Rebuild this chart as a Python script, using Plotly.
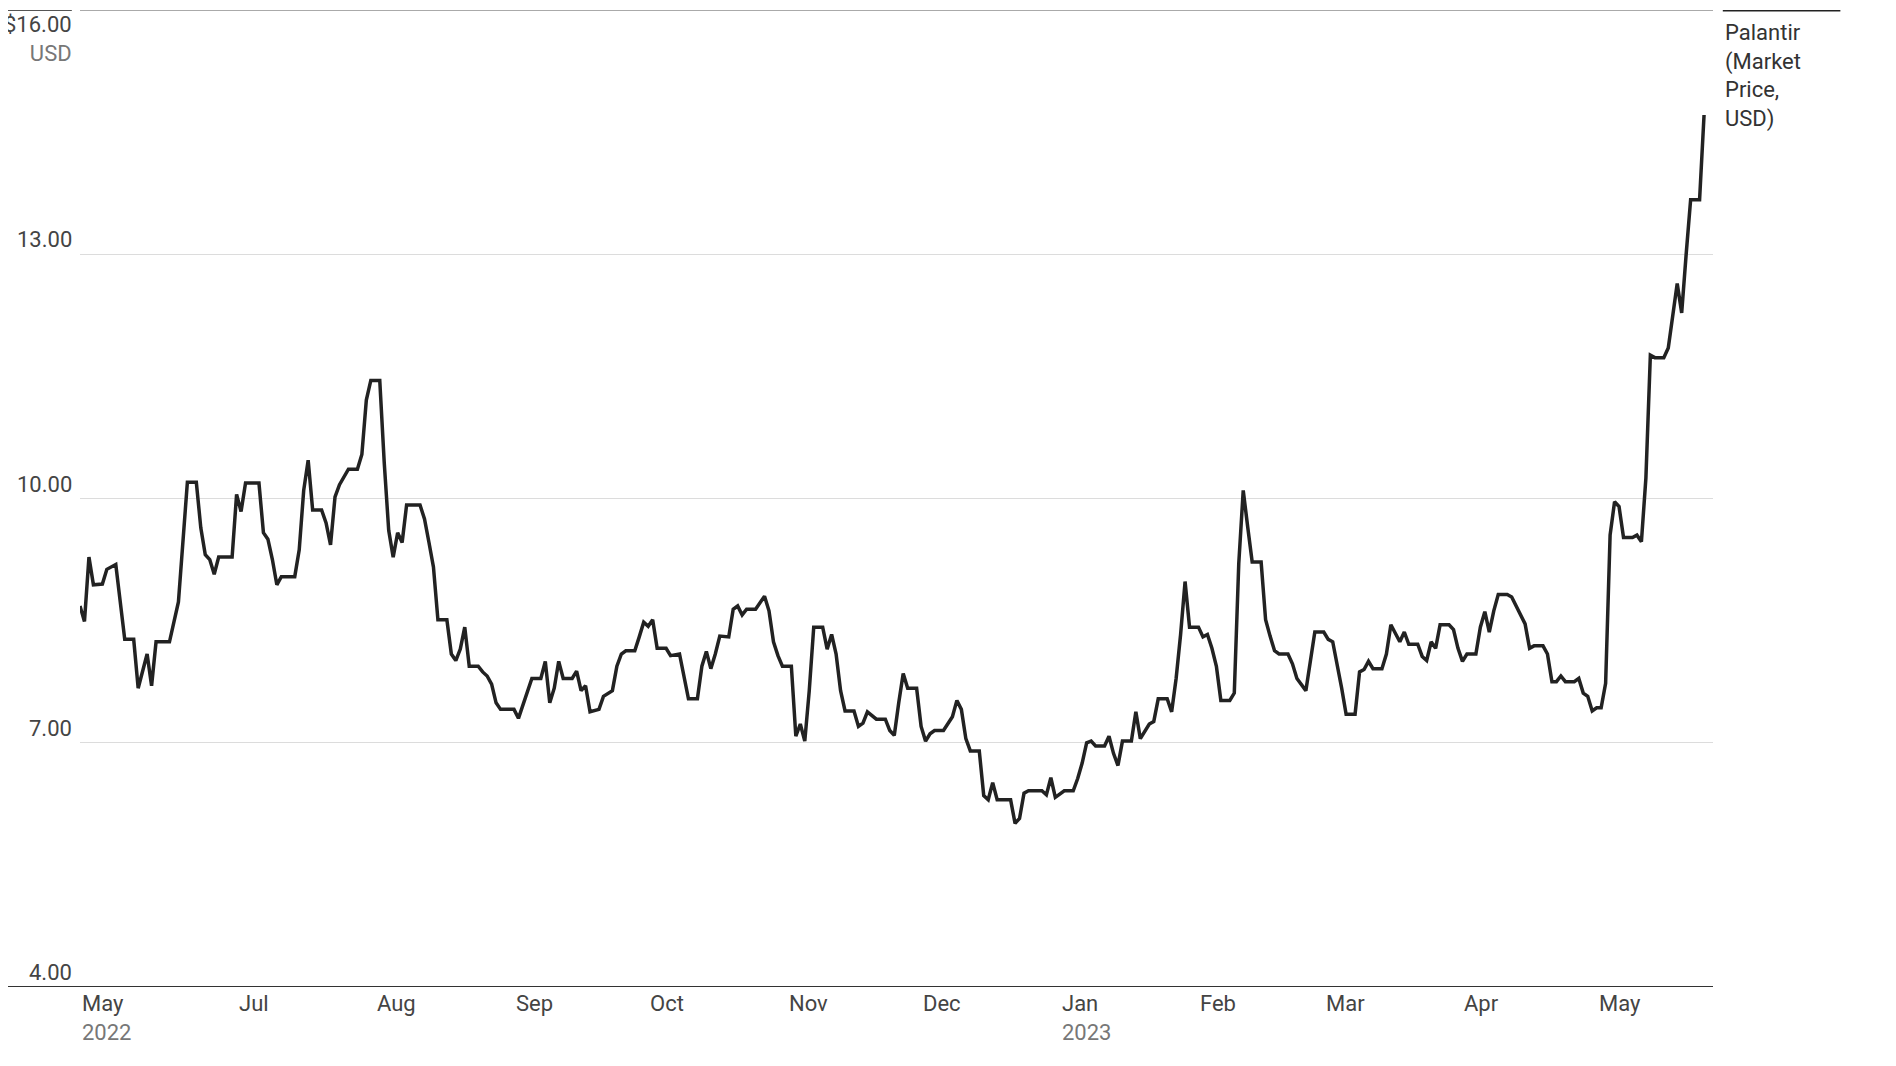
import pandas as pd
import plotly.graph_objects as go

# days since 2022-05-27 and closing price
start = pd.Timestamp("2022-05-27")
days = [0, 1, 2, 3, 5, 6, 8, 9, 10, 12, 13, 15, 16, 17, 20, 22, 23, 24, 26, 27, 28, 29, 30, 31, 34, 35, 36, 37, 40,
        41, 42, 43, 44, 45, 48, 49, 50, 51, 52, 54, 55, 56, 57, 58, 60, 62, 63, 64, 65, 67, 68, 69, 70, 71, 72, 73,
        76, 77, 78, 79, 80, 82, 83, 84, 85, 86, 87, 89, 90, 91, 92, 93, 94, 97, 98, 99, 101, 103, 104, 105, 106, 107,
        108, 110, 111, 112, 113, 114, 116, 117, 119, 120, 121, 122, 124, 125, 126, 127, 128, 129, 131, 132, 134, 136,
        138, 139, 140, 141, 142, 143, 145, 146, 147, 148, 149, 151, 153, 154, 155, 156, 157, 159, 160, 161, 162, 163,
        164, 166, 167, 168, 169, 170, 171, 173, 174, 175, 176, 178, 180, 181, 182, 183, 184, 185, 187, 188, 189, 190,
        191, 193, 195, 196, 197, 198, 199, 201, 202, 203, 204, 205, 208, 209, 210, 211, 212, 215, 216, 217, 218, 220,
        222, 223, 224, 225, 226, 227, 229, 230, 231, 232, 233, 235, 236, 237, 239, 240, 241, 243, 244, 245, 246, 247,
        248, 250, 251, 252, 253, 254, 255, 257, 258, 259, 260, 261, 262, 264, 265, 266, 267, 268, 270, 271, 272, 274,
        275, 276, 278, 279, 280, 281, 282, 283, 285, 286, 287, 288, 289, 291, 292, 293, 295, 296, 297, 299, 300, 301,
        302, 303, 304, 306, 307, 308, 309, 310, 312, 313, 314, 315, 316, 317, 319, 320, 321, 323, 324, 325, 327, 328,
        329, 330, 331, 332, 334, 335, 336, 337, 338, 339, 340, 341, 342, 343, 344, 345, 347, 348, 349, 350, 351, 352,
        354, 355, 357, 358, 359, 360, 362, 363]
price = [8.68, 8.49, 9.28, 8.94, 8.95, 9.13, 9.19, 8.68, 8.27, 8.27, 7.67, 8.09, 7.70, 8.24, 8.24, 8.73, 9.43, 10.20,
         10.20, 9.64, 9.31, 9.25, 9.07, 9.28, 9.28, 10.05, 9.84, 10.19, 10.19, 9.58, 9.50, 9.25, 8.94, 9.04, 9.04, 9.37,
         10.10, 10.47, 9.86, 9.86, 9.70, 9.43, 10.02, 10.17, 10.36, 10.36, 10.54, 11.21, 11.45, 11.45, 10.44, 9.61,
         9.28, 9.58, 9.46, 9.92, 9.92, 9.75, 9.46, 9.16, 8.51, 8.51, 8.09, 8.01, 8.15, 8.42, 7.94, 7.94, 7.87, 7.82,
         7.72, 7.49, 7.41, 7.41, 7.30, 7.46, 7.79, 7.79, 8.00, 7.49, 7.67, 8.00, 7.79, 7.79, 7.88, 7.64, 7.70, 7.38,
         7.41, 7.57, 7.64, 7.94, 8.09, 8.13, 8.13, 8.30, 8.48, 8.43, 8.51, 8.16, 8.16, 8.07, 8.09, 7.54, 7.54, 7.94,
         8.12, 7.91, 8.09, 8.31, 8.30, 8.64, 8.68, 8.57, 8.64, 8.64, 8.80, 8.62, 8.24, 8.07, 7.94, 7.94, 7.08, 7.23,
         7.02, 7.64, 8.42, 8.42, 8.15, 8.33, 8.09, 7.64, 7.39, 7.39, 7.20, 7.24, 7.38, 7.29, 7.29, 7.15, 7.09, 7.49,
         7.85, 7.67, 7.67, 7.20, 7.02, 7.11, 7.15, 7.15, 7.32, 7.52, 7.41, 7.05, 6.90, 6.90, 6.35, 6.30, 6.51, 6.30,
         6.30, 6.01, 6.07, 6.38, 6.41, 6.41, 6.36, 6.57, 6.33, 6.41, 6.41, 6.56, 6.75, 7.00, 7.02, 6.96, 6.96, 7.08,
         6.87, 6.72, 7.02, 7.02, 7.38, 7.05, 7.23, 7.26, 7.54, 7.54, 7.38, 7.79, 8.33, 8.98, 8.42, 8.42, 8.30, 8.33,
         8.16, 7.94, 7.52, 7.52, 7.61, 9.20, 10.10, 9.65, 9.22, 9.22, 8.51, 8.31, 8.13, 8.09, 8.09, 7.97, 7.79, 7.64,
         7.97, 8.36, 8.36, 8.27, 8.24, 7.97, 7.67, 7.35, 7.35, 7.87, 7.90, 8.00, 7.91, 7.91, 8.09, 8.45, 8.24, 8.36,
         8.21, 8.21, 8.06, 8.01, 8.24, 8.16, 8.45, 8.45, 8.39, 8.16, 8.00, 8.09, 8.09, 8.42, 8.61, 8.36, 8.62, 8.82,
         8.82, 8.79, 8.68, 8.46, 8.16, 8.19, 8.19, 8.09, 7.75, 7.75, 7.82, 7.75, 7.75, 7.79, 7.61, 7.57, 7.39, 7.43,
         7.43, 7.73, 9.55, 9.96, 9.90, 9.52, 9.52, 9.55, 9.47, 10.25, 11.76, 11.73, 11.73, 11.85, 12.64, 12.28, 13.00,
         13.67, 13.67, 14.71]
dates = [start + pd.Timedelta(days=d) for d in days]

month_ticks = ["2022-05-27", "2022-07-01", "2022-08-01", "2022-09-01", "2022-10-01", "2022-11-01", "2022-12-01",
               "2023-01-01", "2023-02-01", "2023-03-01", "2023-04-01", "2023-05-01"]
month_labels = ["May<br><span style='color:#777'>2022</span>", "Jul", "Aug", "Sep", "Oct", "Nov", "Dec",
                "Jan<br><span style='color:#777'>2023</span>", "Feb", "Mar", "Apr", "May"]
y_ticks = [4, 7, 10, 13, 16]
y_labels = ["4.00", "7.00", "10.00", "13.00", "$16.00<br><span style='color:#777'>USD</span>"]

font = "Liberation Sans Narrow, Roboto, Arial Narrow, sans-serif"

fig = go.Figure()
fig.add_trace(go.Scatter(x=dates, y=price, mode="lines", line=dict(color="#222", width=3.5), hoverinfo="skip"))

fig.update_layout(
    width=1896, height=1066, plot_bgcolor="white", paper_bgcolor="white",
    margin=dict(l=72, r=191, t=2, b=87), showlegend=False,
    font=dict(family=font, size=22, color="#333"),
    xaxis=dict(range=["2022-05-27", "2023-05-27"], showgrid=False, showticklabels=False, zeroline=False),
    yaxis=dict(range=[4, 16], tickvals=[7, 10, 13, 16], showticklabels=False, gridcolor="#dcdcdc",
               gridwidth=1.2, zeroline=False),
)

# axis lines
fig.add_shape(type="line", xref="paper", yref="y", x0=-0.05, x1=1, y0=4, y1=4, line=dict(color="#333", width=2))
fig.add_shape(type="line", xref="paper", yref="y", x0=0, x1=1, y0=16, y1=16, line=dict(color="#aaa", width=2))
fig.add_shape(type="line", xref="paper", yref="y", x0=-0.05, x1=-0.005, y0=16, y1=16,
              line=dict(color="#555", width=2))
fig.add_shape(type="line", xref="paper", yref="y", x0=1.006, x1=1.078, y0=16, y1=16,
              line=dict(color="#222", width=3))

for v, t in zip(y_ticks, y_labels):
    fig.add_annotation(x=0, xref="paper", y=v, yref="y", text=t, showarrow=False, xanchor="right",
                       yanchor="top" if v == 16 else "bottom", xshift=-6, align="right",
                       font=dict(size=22, color="#444"))
for d, t in zip(month_ticks, month_labels):
    fig.add_annotation(x=d, xref="x", y=0, yref="paper", text=t, showarrow=False, xanchor="left",
                       yanchor="top", yshift=-2, align="left", font=dict(size=22, color="#444"))

fig.add_annotation(x=1.006, xref="paper", y=15.9, yref="y", text="Palantir<br>(Market<br>Price,<br>USD)",
                   showarrow=False, xanchor="left", yanchor="top", align="left", font=dict(size=22, color="#333"))

fig.write_html("out.html")
